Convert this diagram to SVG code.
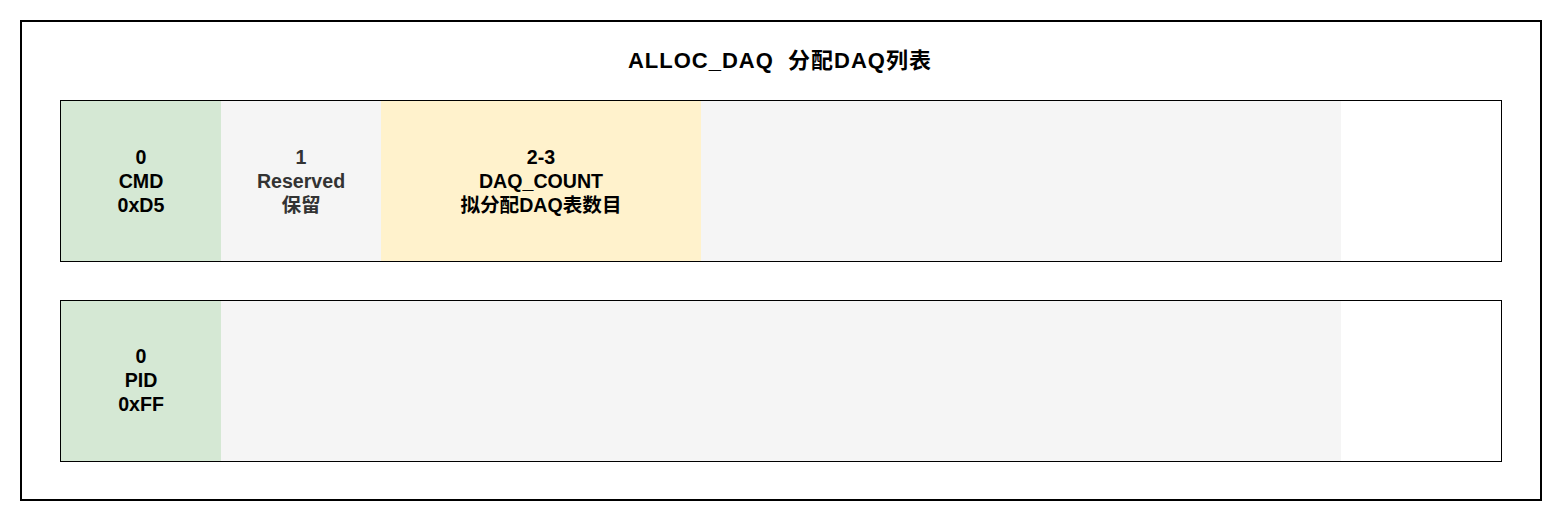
<svg xmlns="http://www.w3.org/2000/svg" width="1564" height="524" viewBox="0 0 1564 524">
<style>
text{font-family:"Liberation Sans",Arial,"Noto Sans CJK SC",sans-serif;font-weight:bold;text-anchor:middle}
.t{font-size:22px;letter-spacing:1px;fill:#000;white-space:pre}
.c{font-size:19.6px;fill:#000}
.g{fill:#333333}
.green{fill:#d5e8d4}
.gray{fill:#f5f5f5}
.yellow{fill:#fff2cc}
.frame{fill:none;stroke:#000;stroke-width:1}
</style>
<rect x="0" y="0" width="1564" height="524" fill="#ffffff"/>
<g id="outer">
<rect x="21" y="21" width="1520" height="479" fill="none" stroke="#000" stroke-width="2"/>
<text class="t" x="780" y="67.7" xml:space="preserve">ALLOC_DAQ  分配DAQ列表</text>
</g>
<g id="row1">
<rect x="61" y="101" width="1440" height="160" fill="#ffffff"/>
<g id="cmd"><rect class="green" x="61" y="101" width="160" height="160"/>
<text class="c" x="141" y="164.3">0</text><text class="c" x="141" y="188.3">CMD</text><text class="c" x="141" y="212">0xD5</text></g>
<g id="reserved"><rect class="gray" x="221" y="101" width="160" height="160"/>
<text class="c g" x="301" y="164.3">1</text><text class="c g" x="301" y="188.3">Reserved</text><text class="c g" x="301" y="212">保留</text></g>
<g id="daqcount"><rect class="yellow" x="381" y="101" width="320" height="160"/>
<text class="c" x="541" y="164.3">2-3</text><text class="c" x="541" y="188.3">DAQ_COUNT</text><text class="c" x="541" y="212">拟分配DAQ表数目</text></g>
<g id="row1rest"><rect class="gray" x="701" y="101" width="640" height="160"/></g>
<rect class="frame" x="60.5" y="100.5" width="1441" height="161"/>
</g>
<g id="row2">
<rect x="61" y="301" width="1440" height="160" fill="#ffffff"/>
<g id="pid"><rect class="green" x="61" y="301" width="160" height="160"/>
<text class="c" x="141" y="363.3">0</text><text class="c" x="141" y="387.3">PID</text><text class="c" x="141" y="411">0xFF</text></g>
<g id="row2rest"><rect class="gray" x="221" y="301" width="1120" height="160"/></g>
<rect class="frame" x="60.5" y="300.5" width="1441" height="161"/>
</g>
<g id="connectors"></g>
</svg>
